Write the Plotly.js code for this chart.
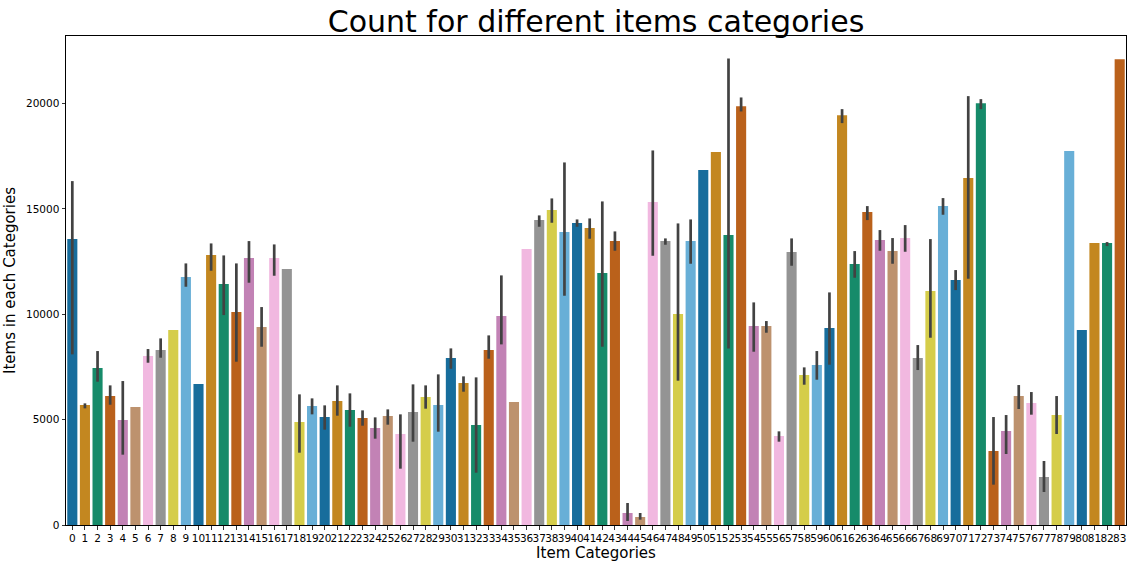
<!DOCTYPE html>
<html>
<head>
<meta charset="utf-8">
<script src="https://cdn.plot.ly/plotly-3.0.1.min.js"></script>
<style>html,body{margin:0;padding:0;background:#fff;}#chart{width:1132px;height:568px;}</style>
</head>
<body>
<div id="chart"></div>
<script>
// Item categories 0..83
const categories = ["0","1","2","3","4","5","6","7","8","9","10","11","12","13","14","15","16","17","18","19","20","21","22","23","24","25","26","27","28","29","30","31","32","33","34","35","36","37","38","39","40","41","42","43","44","45","46","47","48","49","50","51","52","53","54","55","56","57","58","59","60","61","62","63","64","65","66","67","68","69","70","71","72","73","74","75","76","77","78","79","80","81","82","83"];

// Mean count per category (bar heights)
const counts = [13565,5692,7447,6118,4980,5597,8016,8300,9249,11763,6688,12806,11431,10103,12664,9391,12664,12142,4885,5644,5122,5881,5454,5075,4601,5170,4316,5360,6071,5692,7921,6735,4743,8300,9913,5834,13091,14466,14940,13897,14324,14087,11952,13470,569,379,15320,13470,10008,13470,16838,17691,13755,19873,9439,9439,4221,12948,7115,7589,9344,19446,12379,14846,13518,12996,13612,7921,11099,15130,11620,16458,20015,3510,4458,6118,5786,2277,5217,17739,9249,13375,13375,22102];

// Confidence interval bounds (null = no error bar drawn)
const ciLow = [8095,5534,6798,5707,3336,null,7699,7937,null,11304,null,12063,9960,7747,11494,8458,11826,null,3431,5249,4522,5186,4664,4711,4095,4759,2672,3953,5518,4427,7415,6324,2482,7889,8569,null,null,14150,14340,10877,14150,13581,8458,13012,190,253,12774,13296,6846,12395,null,null,8379,19620,8221,9122,3953,12300,6656,6893,7605,19067,11731,14466,13012,12395,12964,7352,8885,14719,11146,11684,19731,1913,3368,5502,5233,1565,4316,null,null,null,13233,null];
const ciHigh = [16316,5771,8253,6624,6830,null,8348,8854,null,12411,null,13359,12790,12411,13470,10340,13312,null,6198,6008,5676,6624,6245,5439,5107,5486,5249,6672,6624,7146,8379,7051,7004,8996,11842,null,null,14688,15494,17201,14498,14545,15352,13929,1043,569,17770,13597,14308,14498,null,null,22134,20284,10561,9676,4443,13597,7478,8253,11035,19731,12996,15130,13992,13613,14229,8537,13565,15510,12095,20347,20205,5122,5217,6640,6308,3036,6118,null,null,null,13423,null];

// seaborn "colorblind" palette, desaturated (as drawn by barplot)
const palette = ["#176d9c","#c38720","#168b6a","#ba611b","#c282b5","#bd926e","#f1b8e0","#949494","#d5cd4a","#68afd7"];

const barColors = categories.map((c, i) => palette[i % palette.length]);
const errPlus = counts.map((v, i) => ciHigh[i] == null ? null : ciHigh[i] - v);
const errMinus = counts.map((v, i) => ciLow[i] == null ? null : v - ciLow[i]);

const trace = {
  type: "bar",
  x: categories,
  y: counts,
  marker: {color: barColors, line: {width: 0}},
  error_y: {
    type: "data",
    symmetric: false,
    array: errPlus,
    arrayminus: errMinus,
    color: "#424242",
    thickness: 2.7,
    width: 0,
    visible: true
  },
  hoverinfo: "x+y"
};

const font = "DejaVu Sans, Liberation Sans, sans-serif";

const layout = {
  width: 1132,
  height: 568,
  paper_bgcolor: "#ffffff",
  plot_bgcolor: "#ffffff",
  font: {family: font, color: "#000000", size: 10},
  margin: {l: 66, r: 6, t: 36, b: 43, pad: 0},
  bargap: 0.2,
  showlegend: false,
  title: {
    text: "Count for different items categories",
    font: {family: font, size: 30, color: "#000000"},
    x: 0.5, xref: "paper", xanchor: "center",
    y: 0.963, yref: "container", yanchor: "middle"
  },
  xaxis: {
    type: "category",
    range: [-0.5, 83.5],
    tickmode: "linear", dtick: 1,
    tickangle: 0,
    ticks: "outside", ticklen: 3.5, tickwidth: 0.8, tickcolor: "#000",
    tickfont: {family: font, size: 10.5, color: "#000"},
    showline: true, linecolor: "#000", linewidth: 1, mirror: true,
    showgrid: false, zeroline: false,
    automargin: false,
    title: {text: "Item Categories", font: {family: font, size: 15, color: "#000"}, standoff: 4}
  },
  yaxis: {
    range: [0, 23200],
    tickmode: "array",
    tickvals: [0, 5000, 10000, 15000, 20000],
    ticktext: ["0", "5000", "10000", "15000", "20000"],
    ticks: "outside", ticklen: 3.5, tickwidth: 0.8, tickcolor: "#000",
    tickfont: {family: font, size: 10.5, color: "#000"},
    showline: true, linecolor: "#000", linewidth: 1, mirror: true,
    showgrid: false, zeroline: false,
    automargin: false,
    title: {text: "Items in each Categories", font: {family: font, size: 15, color: "#000"}, standoff: 6}
  }
};

Plotly.newPlot("chart", [trace], layout, {displayModeBar: false, staticPlot: true});
</script>
</body>
</html>
